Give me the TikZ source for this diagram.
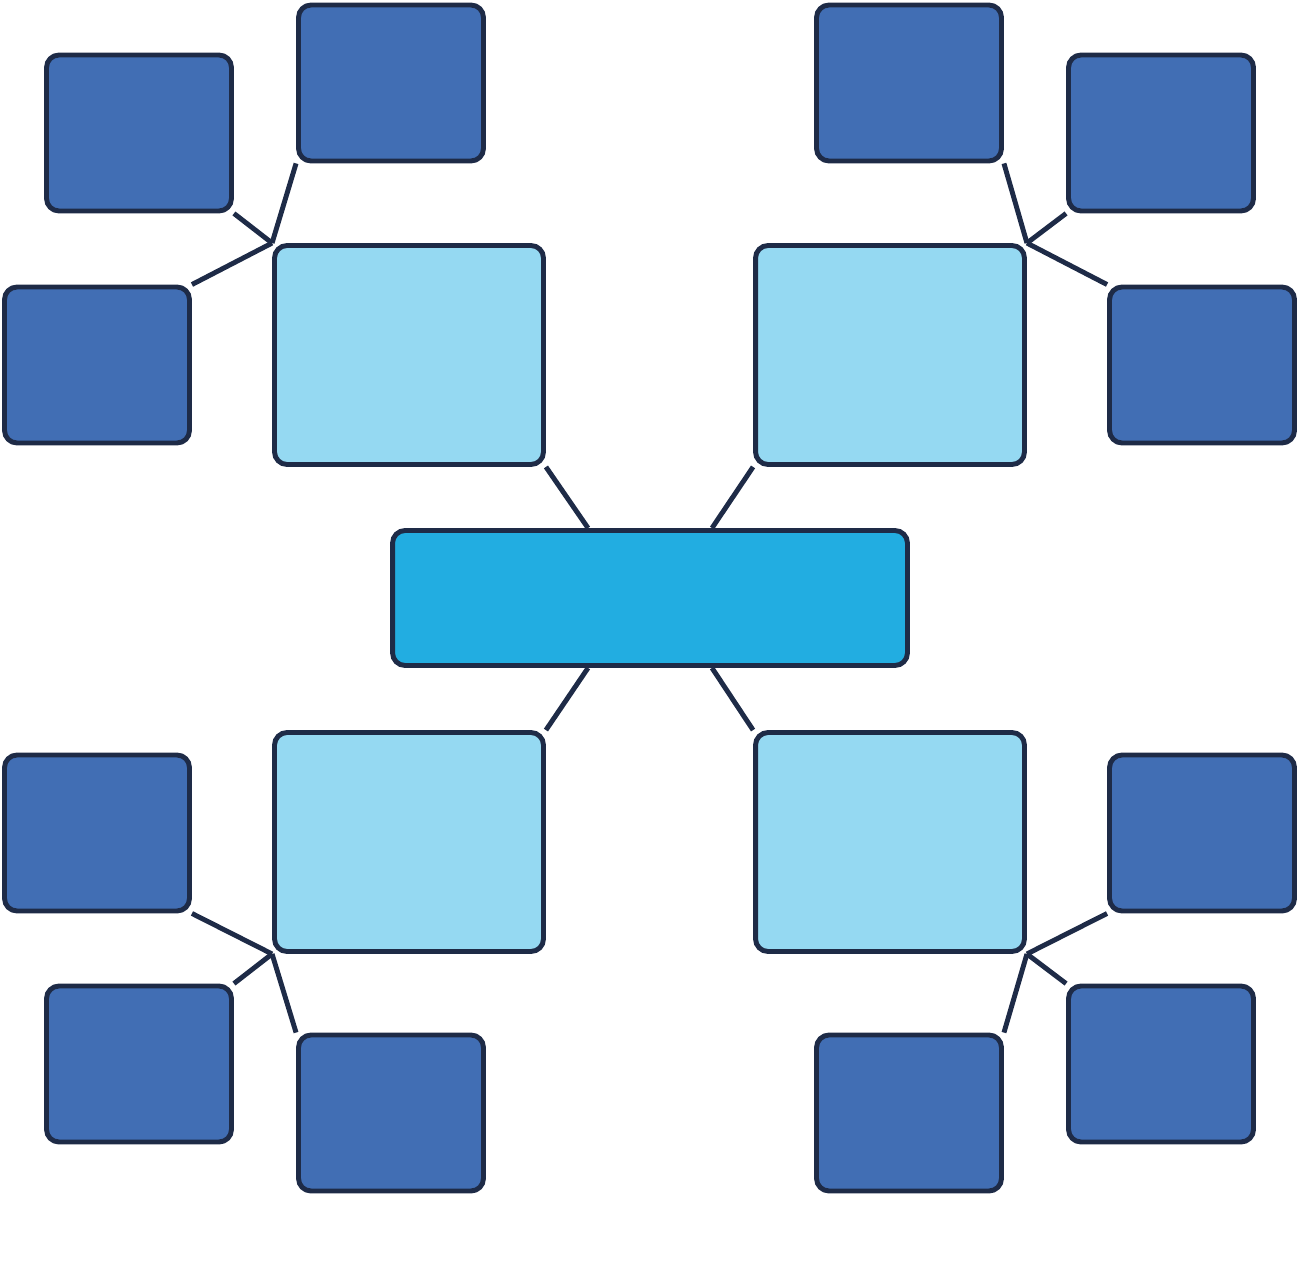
\documentclass[tikz,border=0pt]{standalone}
\usetikzlibrary{backgrounds}
\definecolor{edge}{HTML}{1E2B47}
\definecolor{hubblue}{HTML}{22ADE1}
\definecolor{midblue}{HTML}{95D9F2}
\definecolor{leafblue}{HTML}{416EB4}
\begin{document}
\begin{tikzpicture}[x=0.02cm,y=-0.02cm,
    box/.style={draw=edge,line width=2.8pt,rounded corners=0.25cm,inner sep=0pt},
    hub/.style={box,fill=hubblue,minimum width=10.3cm,minimum height=2.7cm},
    mid/.style={box,fill=midblue,minimum width=5.38cm,minimum height=4.38cm},
    leaf/.style={box,fill=leafblue,minimum width=3.7cm,minimum height=3.12cm},
    link/.style={draw=edge,line width=2.8pt}]
      \useasboundingbox (0,0) rectangle (1300,1287);

      % centre
      \node[hub] (c) at (650,598) {};

      % four middle boxes
      \node[mid] (tl) at (409,355) {};
      \node[mid] (tr) at (890,355) {};
      \node[mid] (bl) at (409,842) {};
      \node[mid] (br) at (890,842) {};

      % leaves, top left
      \node[leaf] (tla) at (139,133) {};
      \node[leaf] (tlb) at (391,83) {};
      \node[leaf] (tlc) at (97,365) {};
      % leaves, top right
      \node[leaf] (tra) at (909,83) {};
      \node[leaf] (trb) at (1161,133) {};
      \node[leaf] (trc) at (1202,365) {};
      % leaves, bottom left
      \node[leaf] (bla) at (97,833) {};
      \node[leaf] (blb) at (139,1064) {};
      \node[leaf] (blc) at (391,1113) {};
      % leaves, bottom right
      \node[leaf] (bra) at (1202,833) {};
      \node[leaf] (brb) at (1161,1064) {};
      \node[leaf] (brc) at (909,1113) {};

      % links, kept behind the boxes
      \begin{scope}[on background layer]
        \draw[link] ([xshift=-1.24cm]c.north) -- (tl.south east);
        \draw[link] ([xshift=1.24cm]c.north) -- (tr.south west);
        \draw[link] ([xshift=-1.24cm]c.south) -- (bl.north east);
        \draw[link] ([xshift=1.24cm]c.south) -- (br.north west);

        \draw[link] (tl.north west) -- (tla.south east);
        \draw[link] (tl.north west) -- (tlb.south west);
        \draw[link] (tl.north west) -- (tlc.north east);

        \draw[link] (tr.north east) -- (tra.south east);
        \draw[link] (tr.north east) -- (trb.south west);
        \draw[link] (tr.north east) -- (trc.north west);

        \draw[link] (bl.south west) -- (bla.south east);
        \draw[link] (bl.south west) -- (blb.north east);
        \draw[link] (bl.south west) -- (blc.north west);

        \draw[link] (br.south east) -- (bra.south west);
        \draw[link] (br.south east) -- (brb.north west);
        \draw[link] (br.south east) -- (brc.north east);
      \end{scope}
\end{tikzpicture}
\end{document}
